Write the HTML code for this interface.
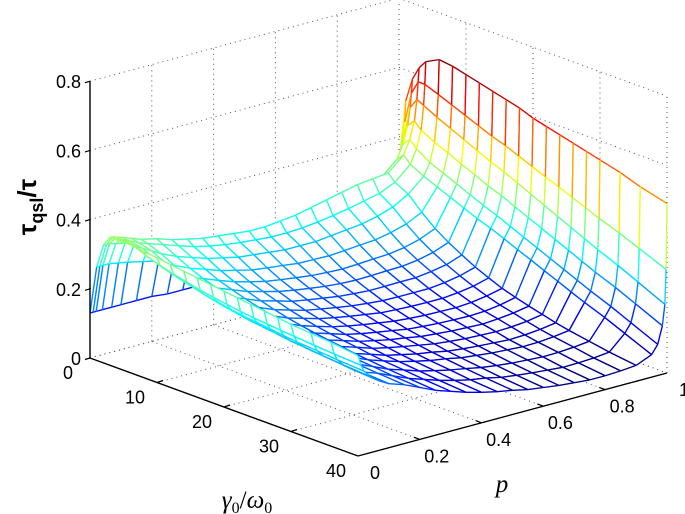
<!DOCTYPE html>
<html><head><meta charset="utf-8"><style>
html,body{margin:0;padding:0;background:#fff;}
svg{display:block;font-family:"Liberation Sans",sans-serif;}
</style></head><body>
<svg id="chart" width="685" height="514" viewBox="0 0 685 514" xmlns="http://www.w3.org/2000/svg">
<g id="grid"></g>
<g id="surface"></g>
<g id="axes"></g>
<text transform="translate(36,207) rotate(-90)" text-anchor="middle" font-size="26" font-weight="bold">τ<tspan font-size="18" dy="7">qsl</tspan><tspan dy="-7">/τ</tspan></text>
<text x="502" y="492" text-anchor="middle" font-family="Liberation Serif,serif" font-style="italic" font-size="25">p</text>
<text x="247" y="508" text-anchor="middle" font-family="Liberation Serif,serif" font-style="italic" font-size="25">γ<tspan font-size="16" dy="5" font-style="normal">0</tspan><tspan dy="-5" font-style="normal">/</tspan>ω<tspan font-size="16" dy="5" font-style="normal">0</tspan></text>
</svg>
<script>
const G=[0,1,2,3,4,6,8,10,12,14,16,18,20,22,24,26,28,30,33,36,40];
const P=[0,.01,.02,.04,.07,.1,.15,.2,.25,.3,.35,.4,.45,.5,.55,.6,.65,.7,.75,.8,.85,.9,.95,.97,.985,.993,.997,1];
const Z0=[.13,.13,.13,.13,.13,.13,.13,.13,.125,.125,.125,.125,.125,.125,.125,.125,.125,.125,.125,.13,.13,.14,.17,.2,.24,.28,.31,.33];
const Z1=[.27,.27,.27,.27,.265,.26,.25,.24,.23,.22,.215,.21,.205,.2,.2,.2,.2,.205,.21,.215,.225,.24,.27,.3,.35,.4,.45,.51];
const Z2=[.34,.34,.34,.335,.33,.32,.31,.3,.29,.28,.27,.265,.26,.26,.26,.26,.265,.27,.28,.29,.3,.32,.36,.4,.45,.5,.54,.58];
const Z3=[.37,.37,.365,.36,.35,.34,.33,.315,.305,.295,.29,.285,.28,.28,.285,.29,.3,.31,.32,.33,.335,.34,.38,.42,.47,.53,.58,.62];
const Z4=[.37,.368,.365,.357,.345,.335,.32,.305,.29,.28,.272,.266,.262,.258,.258,.26,.265,.272,.28,.29,.3,.32,.36,.4,.45,.52,.58,.645];
const Z6=[.37,.365,.36,.35,.335,.32,.3,.285,.27,.26,.25,.245,.24,.235,.235,.235,.24,.245,.25,.26,.275,.3,.34,.375,.43,.5,.565,.665];
const Z8=[.365,.349,.342,.33,.315,.3,.28,.265,.249,.238,.227,.221,.216,.21,.209,.208,.211,.215,.218,.227,.24,.262,.323,.358,.413,.482,.549,.66];
const Z10=[.36,.336,.326,.314,.297,.282,.264,.247,.231,.219,.208,.201,.195,.189,.186,.184,.186,.189,.191,.198,.21,.229,.307,.341,.395,.464,.533,.65];
const Z12=[.355,.325,.314,.301,.284,.269,.251,.234,.217,.205,.193,.185,.178,.172,.168,.166,.167,.169,.17,.176,.186,.203,.29,.324,.378,.446,.517,.64];
const Z14=[.35,.316,.304,.289,.272,.257,.239,.222,.204,.192,.179,.171,.164,.157,.153,.15,.15,.151,.151,.157,.165,.181,.274,.307,.36,.428,.501,.63];
const Z16=[.345,.307,.294,.278,.261,.246,.228,.211,.193,.18,.167,.159,.151,.144,.139,.135,.134,.134,.134,.139,.147,.16,.26,.292,.346,.413,.488,.62];
const Z18=[.34,.3,.286,.269,.251,.236,.219,.201,.183,.17,.157,.148,.14,.133,.126,.123,.121,.12,.12,.124,.131,.143,.244,.275,.328,.395,.472,.61];
const Z20=[.335,.294,.278,.262,.243,.228,.212,.193,.175,.161,.148,.138,.13,.123,.116,.112,.109,.108,.107,.11,.117,.127,.227,.258,.311,.377,.456,.595];
const Z22=[.33,.288,.272,.255,.236,.221,.205,.186,.168,.154,.14,.13,.122,.115,.107,.103,.1,.098,.097,.099,.105,.115,.211,.241,.294,.359,.44,.585];
const Z24=[.325,.284,.268,.25,.231,.216,.2,.181,.162,.148,.134,.124,.115,.108,.1,.096,.092,.09,.088,.091,.096,.104,.194,.224,.276,.341,.425,.575];
const Z26=[.32,.28,.263,.245,.226,.211,.195,.176,.157,.143,.128,.118,.109,.101,.093,.088,.084,.082,.08,.082,.086,.094,.178,.207,.259,.323,.409,.565];
const Z28=[.315,.276,.258,.239,.22,.205,.189,.17,.151,.137,.122,.112,.102,.095,.086,.081,.077,.074,.071,.073,.077,.084,.161,.19,.241,.305,.393,.555];
const Z30=[.31,.273,.254,.236,.216,.201,.186,.166,.147,.132,.118,.107,.097,.09,.081,.076,.071,.068,.065,.066,.07,.076,.145,.173,.224,.287,.377,.545];
const Z33=[.305,.268,.25,.23,.211,.196,.18,.161,.141,.127,.112,.101,.091,.083,.074,.068,.063,.06,.057,.058,.061,.066,.123,.15,.201,.263,.356,.53];
const Z36=[.3,.264,.245,.225,.205,.19,.175,.155,.136,.121,.106,.094,.084,.077,.067,.061,.056,.052,.048,.049,.051,.056,.098,.124,.175,.236,.332,.51];
const Z40=[.29,.26,.24,.22,.2,.185,.17,.15,.13,.115,.1,.088,.078,.07,.06,.054,.048,.044,.04,.04,.042,.046,.065,.09,.14,.2,.3,.49];
const Z=[Z0,Z1,Z2,Z3,Z4,Z6,Z8,Z10,Z12,Z14,Z16,Z18,Z20,Z22,Z24,Z26,Z28,Z30,Z33,Z36,Z40];
const zTicks=[0,0.2,0.4,0.6,0.8];
const zTickLabels=["0","0.2","0.4","0.6","0.8"];
const gTicks=[0,10,20,30,40];
const gTickLabels=["0","10","20","30","40"];
const pTicks=[0,0.2,0.4,0.6,0.8,1];
const pTickLabels=["0","0.2","0.4","0.6","0.8","1"];

const NS="http://www.w3.org/2000/svg";
function proj(g,p,z){return [90+6.7*g+309*p, 358+2.45*g-83*p-346*z];}
function mk(tag,attrs,parent){const e=document.createElementNS(NS,tag);for(const k in attrs)e.setAttribute(k,attrs[k]);parent.appendChild(e);return e;}
const CMIN=0.04,CMAX=0.665;
function jet(z){let t=(z-CMIN)/(CMAX-CMIN);t=Math.max(0,Math.min(1,t));
 const c=v=>Math.round(255*Math.max(0,Math.min(1,v)));
 return `rgb(${c(1.5-Math.abs(4*t-3))},${c(1.5-Math.abs(4*t-2))},${c(1.5-Math.abs(4*t-1))})`;}

const grid=document.getElementById('grid');
function dline(a,b,name){const l=mk('line',{x1:a[0],y1:a[1],x2:b[0],y2:b[1],stroke:'#555','stroke-width':1,'stroke-dasharray':'1 4'},grid);
 }
zTicks.forEach(z=>{dline(proj(0,0,z),proj(0,1,z),'grid-line-wall-left');dline(proj(0,1,z),proj(40,1,z),'grid-line-wall-back');});
pTicks.forEach(p=>{dline(proj(0,p,0),proj(0,p,0.8),'grid-line-wall-left');dline(proj(0,p,0),proj(40,p,0),'grid-line-floor');});
gTicks.forEach(g=>{dline(proj(g,1,0),proj(g,1,0.8),'grid-line-wall-back');dline(proj(g,0,0),proj(g,1,0),'grid-line-floor');});

const surf=document.getElementById('surface');
const quads=[];
for(let i=0;i<G.length-1;i++)for(let j=0;j<P.length-1;j++){
 const gc=(G[i]+G[i+1])/2, pc=(P[j]+P[j+1])/2;
 quads.push({i,j,key:98*gc/40-83*pc});}
quads.sort((a,b)=>a.key-b.key);
quads.forEach(q=>{
 const {i,j}=q;
 const c=[[i,j],[i+1,j],[i+1,j+1],[i,j+1]];
 const pts=c.map(([a,b])=>proj(G[a],P[b],Z[a][b]));
 const poly=mk('polygon',{points:pts.map(p=>p.join(',')).join(' '),fill:'#fff',stroke:'none'},surf);
 
 
 for(let k=0;k<4;k++){const a=c[k],b=c[(k+1)%4];
  const zz=(Z[a[0]][a[1]]+Z[b[0]][b[1]])/2;
  const l=mk('line',{x1:pts[k][0],y1:pts[k][1],x2:pts[(k+1)%4][0],y2:pts[(k+1)%4][1],stroke:jet(zz),'stroke-width':1.35},surf);
  
  }
});

const ax=document.getElementById('axes');
function sline(a,b,name,w){const l=mk('line',{x1:a[0],y1:a[1],x2:b[0],y2:b[1],stroke:'#000','stroke-width':w||1.4},ax);
 }
function txt(x,y,s,anchor,name){const t=mk('text',{x:x,y:y,'text-anchor':anchor,'font-size':18,fill:'#000'},ax);t.textContent=s;
 }
sline(proj(0,0,0),proj(0,0,0.8),'z-axis-line');
sline(proj(0,0,0),proj(40,0,0),'gamma-axis-line');
sline(proj(40,0,0),proj(40,1,0),'p-axis-line');
zTicks.forEach((z,k)=>{const a=proj(0,0,z);sline(a,[a[0]-5,a[1]+1.5],'z-tick',1.2);
 txt(a[0]-9,a[1]+7,zTickLabels[k],'end','z-tick-label');});
gTicks.forEach((g,k)=>{const a=proj(g,0,0);if(k>0&&k<4)sline(a,[a[0]+6,a[1]-2],'gamma-tick',1.2);
 txt(a[0]-22,a[1]+21,gTickLabels[k],'middle','gamma-tick-label');});
pTicks.forEach((p,k)=>{const a=proj(40,p,0);if(k>0&&k<5)sline(a,[a[0]-6,a[1]-2.2],'p-tick',1.2);
 txt(a[0]+17,a[1]+23,pTickLabels[k],'middle','p-tick-label');});
</script>
</body></html>
